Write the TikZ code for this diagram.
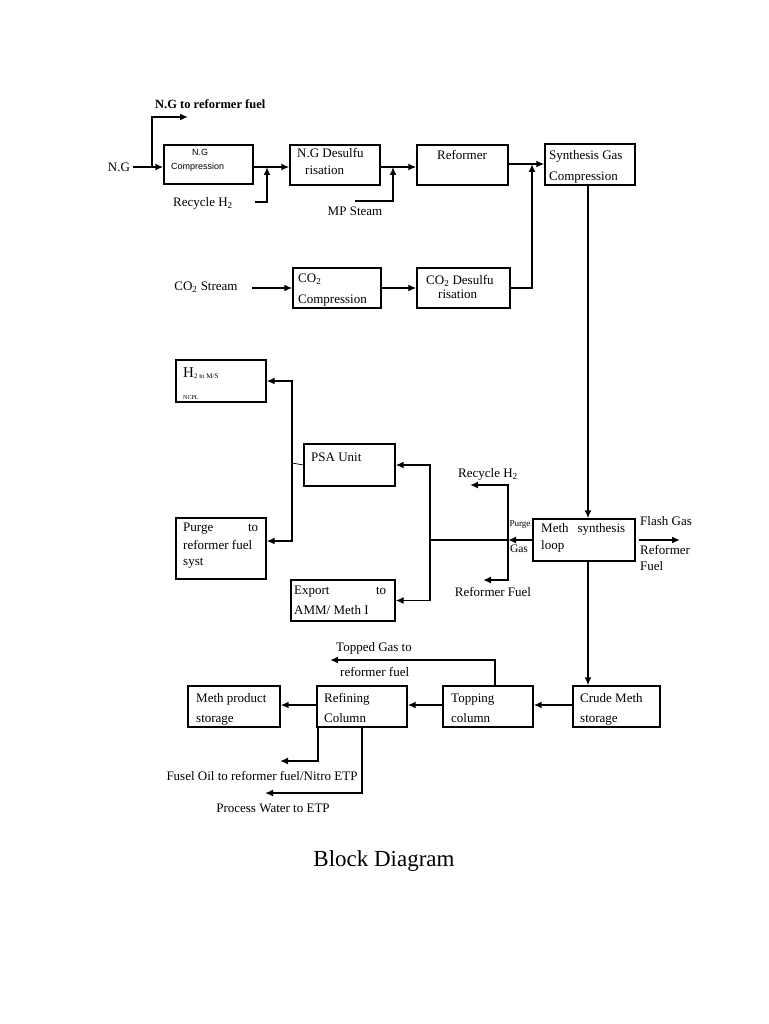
\documentclass[tikz,border=0pt]{standalone}
\usepackage{fontspec}
\setmainfont{Liberation Serif}
\newfontfamily\arialf{Liberation Sans}
\usetikzlibrary{arrows.meta,fit}
\begin{document}
\begin{tikzpicture}[x=1pt,y=-1pt,
  blk/.style={draw, line width=1.3pt, inner sep=0pt},
  ln/.style={line width=1.6pt},
  arr/.style={line width=1.6pt, -{Latex[length=8pt,width=7pt]}},
  txt/.style={inner sep=0pt, font=\fontsize{13}{15}\selectfont},
  bw/.style={txt, anchor=base west},
  bc/.style={txt, anchor=base},
]
\fill[white] (0,0) rectangle (768,1024);
\useasboundingbox (0,0) rectangle (768,1024);

% ---------- boxes ----------
\node[blk, fit={(164,145) (253,184)}] (ngc) {};
\node[blk, fit={(290,145) (380,185)}] (ngd) {};
\node[blk, fit={(417,145) (508,185)}] (ref) {};
\node[blk, fit={(545,144) (635,185)}] (sgc) {};
\node[blk, fit={(293,268) (381,308)}] (co2c) {};
\node[blk, fit={(417,268) (510,308)}] (co2d) {};
\node[blk, fit={(176,360) (266,402)}] (h2) {};
\node[blk, fit={(304,444) (395,486)}] (psa) {};
\node[blk, fit={(176,518) (266,579)}] (purge) {};
\node[blk, fit={(291,580) (395,621)}] (exp) {};
\node[blk, fit={(533,519) (635,561)}] (msl) {};
\node[blk, fit={(573,686) (660,727)}] (crude) {};
\node[blk, fit={(443,686) (533,727)}] (top) {};
\node[blk, fit={(317,686) (407,727)}] (refc) {};
\node[blk, fit={(188,686) (280,727)}] (mps) {};

% ---------- box texts ----------
\node[inner sep=0pt, font=\arialf\fontsize{9}{10}\selectfont, anchor=base] (tngcA) at (200,156) {N.G};
\node[inner sep=0pt, font=\arialf\fontsize{9}{10}\selectfont, anchor=base west] (tngcB) at (171,170) {Compression};
\node[bw] (tngdA) at (297,157.5) {N.G Desulfu};
\node[bw] (tngdB) at (305,174.5) {risation};
\node[bc] (tref) at (462,159.5) {Reformer};
\node[bw] (tsgcA) at (549,159.5) {Synthesis Gas};
\node[bw] (tsgcB) at (549,180.5) {Compression};
\node[bw] (tco2cA) at (298,282.5) {CO\textsubscript{2}};
\node[bw] (tco2cB) at (298,303.5) {Compression};
\node[bw] (tco2dA) at (426,284.5) {CO\textsubscript{2} Desulfu};
\node[bw] (tco2dB) at (438,298.5) {risation};
\node[inner sep=0pt, anchor=base west] (th2A) at (183,377) {{\fontsize{15}{15}\selectfont H}{\fontsize{7}{8}\selectfont\raisebox{-1.5pt}{2 to M/S}}};
\node[inner sep=0pt, anchor=base west, font=\fontsize{6}{7}\selectfont] (th2B) at (183,399) {NCPL};
\node[bw] (tpsa) at (311,461.5) {PSA Unit};
\node[bw] (tpurA) at (183,531.5) {\makebox[75pt][s]{Purge to}};
\node[bw] (tpurB) at (183,549.5) {reformer fuel};
\node[bw] (tpurC) at (183,565.5) {syst};
\node[bw] (texpA) at (294,594.5) {\makebox[92pt][s]{Export to}};
\node[bw] (texpB) at (294,614.5) {AMM/ Meth I};
\node[bw] (tmslA) at (541,532.5) {\makebox[84pt][s]{Meth synthesis}};
\node[bw] (tmslB) at (541,549.5) {loop};
\node[bw] (tcruA) at (580,702.5) {Crude Meth};
\node[bw] (tcruB) at (580,722.5) {storage};
\node[bw] (ttopA) at (451,702.5) {Topping};
\node[bw] (ttopB) at (451,722.5) {column};
\node[bw] (trefA) at (324,702.5) {Refining};
\node[bw] (trefB) at (324,722.5) {Column};
\node[bw] (tmpsA) at (196,702.5) {Meth product};
\node[bw] (tmpsB) at (196,722.5) {storage};

% ---------- free labels ----------
\node[txt, anchor=center] (ngt) at (119,167) {N.G};
\node[inner sep=0pt, anchor=base west, font=\bfseries\fontsize{12.5}{14}\selectfont] (tngf) at (155,108.5) {N.G to reformer fuel};
\node[bc] (trh) at (203,206.5) {Recycle H\textsubscript{2}};
\node[bc] (tmp) at (355,215.5) {MP Steam};
\node[bc] (tcs) at (206,290.5) {CO\textsubscript{2} Stream};
\node[bc] (trh2) at (488,477.5) {Recycle H\textsubscript{2}};
\node[bc] (trf) at (493,596.5) {Reformer Fuel};
\node[inner sep=0pt, anchor=base, font=\fontsize{9}{10}\selectfont] (tpg) at (520,526) {Purge};
\node[inner sep=0pt, anchor=base, font=\fontsize{11.5}{13}\selectfont] (tgas) at (519,552.5) {Gas};
\node[bw] (tfgA) at (640,525.5) {Flash Gas};
\node[bw] (tfgB) at (640,554.5) {Reformer};
\node[bw] (tfgC) at (640,570.5) {Fuel};
\node[bw] (ttgA) at (336,651.5) {Topped Gas to};
\node[bw] (ttgB) at (340,676.5) {reformer fuel};
\node[bc] (tfo) at (262,780.5) {Fusel Oil to reformer fuel/Nitro ETP};
\node[bc] (tpw) at (273,812.5) {Process Water to ETP};
\node[inner sep=0pt, anchor=base, font=\fontsize{23}{26}\selectfont] (title) at (384,866) {Block Diagram};

% ---------- connectors ----------
\coordinate (ya) at (0,167);
\coordinate (yb) at (0,164);
\coordinate (yc) at (0,288);
\coordinate (yd) at (0,705);
\coordinate (ngs) at (133,167);
\draw[arr] (ngs) -- (ngs -| ngc.west);
\coordinate (ngb) at (152,167);
\coordinate (ngf) at (188,117);
\draw[arr] (ngb) |- (ngf);
\draw[arr] (ngc.east |- ya) -- (ngd.west |- ya);
\coordinate (rhs) at (255,202);
\coordinate (j1) at (267,167);
\draw[arr] (rhs) -| (j1);
\draw[arr] (ngd.east |- ya) -- (ref.west |- ya);
\coordinate (mpst) at (355,201);
\coordinate (j2) at (393,167);
\draw[arr] (mpst) -| (j2);
\draw[arr] (ref.east |- yb) -- (sgc.west |- yb);
\coordinate (cse) at (252,288);
\draw[arr] (cse) -- (co2c.west |- yc);
\draw[arr] (co2c.east |- yc) -- (co2d.west |- yc);
\coordinate (j3) at (532,164);
\draw[arr] (co2d.east |- yc) -| (j3);
\coordinate (vm) at (588,0);
\draw[arr] (sgc.south -| vm) -- (msl.north -| vm);
\draw[arr] (msl.south -| vm) -- (crude.north -| vm);
\coordinate (pg) at (508,540);
\coordinate (vx) at (430,540);
\draw[arr] (msl.west) -- (pg);
\draw[ln] (pg) -- (vx);
\coordinate (rcy) at (470,485);
\coordinate (rfu) at (483,580);
\draw[arr] (pg) |- (rcy);
\draw[arr] (pg) |- (rfu);
\draw[arr] (vx) |- (psa.east);
\draw[arr] (vx) |- (exp.east);
\coordinate (fg) at (680,540);
\draw[arr] ([xshift=3pt]msl.east) -- (fg);
\coordinate (vl) at (292,463);
\draw[line width=0.7pt] (psa.west) -- (vl);
\draw[arr] (vl) |- (h2.east);
\draw[arr] (vl) |- ([yshift=7.5pt]purge.east);
\draw[arr] (crude.west |- yd) -- (top.east |- yd);
\coordinate (tg) at (330,660);
\draw[arr] ([xshift=7pt]top.north) |- (tg);
\draw[arr] (top.west |- yd) -- (refc.east |- yd);
\draw[arr] (refc.west |- yd) -- (mps.east |- yd);
\coordinate (fx) at (318,0);
\coordinate (fo) at (280,761);
\draw[arr] (refc.south -| fx) |- (fo);
\coordinate (pw) at (265,793);
\draw[arr] (refc.south) |- (pw);
\end{tikzpicture}
\end{document}
